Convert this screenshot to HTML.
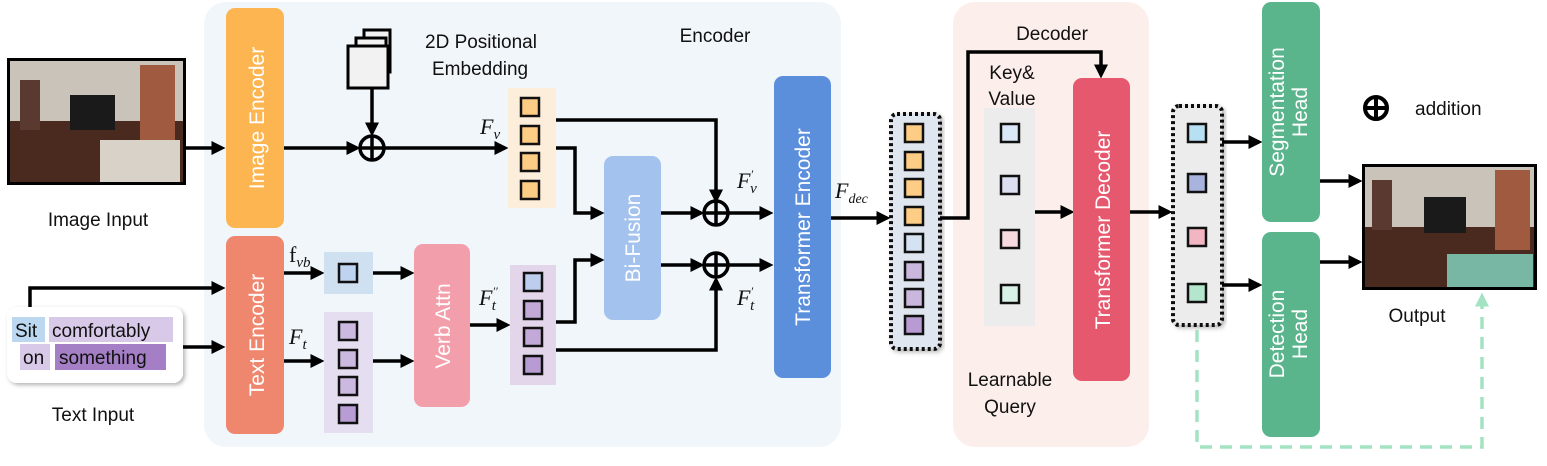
<!DOCTYPE html>
<html><head><meta charset="utf-8"><style>
html,body{margin:0;padding:0;background:#fff}
svg{display:block}
text{font-family:"Liberation Sans","DejaVu Sans",sans-serif}
.w{fill:#fff;font-size:21px}
.l{fill:#111;font-size:19px}
.m{font-family:"Liberation Serif",serif;font-style:italic;font-size:22px;fill:#111}
.ln{stroke:#000;stroke-width:3.5;fill:none}
</style></head><body>
<svg width="1547" height="466" viewBox="0 0 1547 466" xmlns="http://www.w3.org/2000/svg">
<defs>
<marker id="a" markerWidth="4" markerHeight="4" refX="3" refY="2" orient="auto" markerUnits="strokeWidth"><path d="M0,0 L4,2 L0,4 z" fill="#000"/></marker>
<marker id="g" markerWidth="4" markerHeight="4" refX="3" refY="2" orient="auto" markerUnits="strokeWidth"><path d="M0,0 L4,2 L0,4 z" fill="#a3e3c4"/></marker>
<filter id="sh"><feDropShadow dx="2" dy="2" stdDeviation="2" flood-opacity="0.3"/></filter>
</defs>
<!-- backgrounds -->
<rect x="204" y="2" width="637" height="445" rx="22" fill="#f1f6fb"/>
<rect x="953" y="2" width="196" height="445" rx="22" fill="#fcefeb"/>
<text x="715" y="42" class="l" font-size="21" text-anchor="middle">Encoder</text>
<text x="1052" y="40" class="l" font-size="21" text-anchor="middle">Decoder</text>

<!-- image input -->
<rect x="7" y="58" width="179" height="127" fill="#000"/>
<rect x="10" y="61" width="173" height="121" fill="#8a7a6c"/>
<rect x="10" y="61" width="173" height="60" fill="#c9c3b9"/>
<rect x="10" y="121" width="173" height="61" fill="#4a2a1e"/>
<rect x="70" y="95" width="45" height="35" fill="#1a1a1a"/>
<rect x="20" y="80" width="20" height="50" fill="#5a3a30"/>
<rect x="140" y="65" width="35" height="80" fill="#a05a40"/>
<rect x="100" y="140" width="80" height="42" fill="#d8d2c8"/>
<text x="98" y="226" class="l" text-anchor="middle">Image Input</text>

<!-- text input -->
<rect x="7" y="307" width="176" height="76" rx="10" fill="#fff" filter="url(#sh)"/>
<rect x="12" y="317" width="33" height="25" fill="#bcd8f0"/>
<rect x="49" y="317" width="124" height="25" fill="#d9c9e8"/>
<rect x="20" y="344" width="30" height="26" fill="#d9c9e8"/>
<rect x="55" y="344" width="111" height="26" fill="#a57fc6"/>
<text x="15" y="337" class="l">Sit</text>
<text x="52" y="337" class="l">comfortably</text>
<text x="23" y="364" class="l">on</text>
<text x="59" y="364" class="l">something</text>
<text x="93" y="421" class="l" text-anchor="middle">Text Input</text>

<!-- encoders -->
<rect x="226" y="8" width="58" height="220" rx="9" fill="#fdb552"/>
<text class="w" transform="translate(264,118) rotate(-90)" text-anchor="middle">Image Encoder</text>
<rect x="226" y="236" width="58" height="198" rx="9" fill="#ef876f"/>
<text class="w" transform="translate(264,335) rotate(-90)" text-anchor="middle">Text Encoder</text>

<path class="ln" d="M186,148 H222" marker-end="url(#a)"/>
<path class="ln" d="M30,307 V288 H222" marker-end="url(#a)"/>
<path class="ln" d="M183,347 H222" marker-end="url(#a)"/>

<!-- positional embedding -->
<rect x="364" y="30" width="26" height="42" fill="#f2f2f2" stroke="#000" stroke-width="3"/>
<rect x="356" y="38" width="30" height="42" fill="#f2f2f2" stroke="#000" stroke-width="3"/>
<rect x="348" y="46" width="40" height="42" fill="#f2f2f2" stroke="#000" stroke-width="3"/>
<text x="425" y="48" class="l" font-size="16">2D Positional</text>
<text x="432" y="75" class="l" font-size="16">Embedding</text>
<path class="ln" d="M372,88 V133" marker-end="url(#a)"/>
<path class="ln" d="M284,148 H357" marker-end="url(#a)"/>
<circle cx="372" cy="148" r="12" fill="none" stroke="#000" stroke-width="3.5"/>
<path class="ln" d="M360,148 H384 M372,136 V160"/>
<path class="ln" d="M384,148 H505" marker-end="url(#a)"/>
<text x="480" y="134" class="m">F<tspan font-size="15" dy="5">v</tspan></text>

<!-- Fv column -->
<rect x="508" y="88" width="48" height="120" fill="#fdeedc"/>
<g stroke="#111" stroke-width="2.5" fill="#fdcc85">
<rect x="521" y="98" width="18" height="18"/><rect x="521" y="126" width="18" height="18"/><rect x="521" y="153" width="18" height="18"/><rect x="521" y="181" width="18" height="18"/></g>

<!-- Bi-Fusion -->
<rect x="604" y="156" width="57" height="164" rx="9" fill="#a3c3ee"/>
<text class="w" transform="translate(640,238) rotate(-90)" text-anchor="middle">Bi-Fusion</text>
<path class="ln" d="M556,120 H716 V200" marker-end="url(#a)"/>
<path class="ln" d="M556,148 H575 V213 H601" marker-end="url(#a)"/>
<path class="ln" d="M661,213 H701" marker-end="url(#a)"/>
<path class="ln" d="M661,265 H701" marker-end="url(#a)"/>
<circle cx="716" cy="213" r="12" fill="none" stroke="#000" stroke-width="3.5"/>
<path class="ln" d="M704,213 H728 M716,201 V225"/>
<circle cx="716" cy="265" r="12" fill="none" stroke="#000" stroke-width="3.5"/>
<path class="ln" d="M704,265 H728 M716,253 V277"/>
<path class="ln" d="M728,213 H770" marker-end="url(#a)"/>
<path class="ln" d="M728,265 H770" marker-end="url(#a)"/>
<text x="737" y="188" class="m">F<tspan font-size="12" dy="-10">′</tspan><tspan font-size="15" dx="-3" dy="15">v</tspan></text>
<text x="737" y="305" class="m">F<tspan font-size="12" dy="-10">′</tspan><tspan font-size="15" dx="-3" dy="15">t</tspan></text>

<!-- text branch -->
<text x="289" y="262" class="m" style="font-style:normal">f<tspan font-size="15" dy="5" font-style="italic">vb</tspan></text>
<path class="ln" d="M284,273 H321" marker-end="url(#a)"/>
<rect x="324" y="252" width="49" height="42" fill="#cfe0f1"/>
<rect x="339" y="264" width="18" height="18" fill="#bdd3f0" stroke="#111" stroke-width="2.5"/>
<path class="ln" d="M373,273 H411" marker-end="url(#a)"/>
<text x="289" y="344" class="m">F<tspan font-size="15" dy="5">t</tspan></text>
<path class="ln" d="M284,361 H321" marker-end="url(#a)"/>
<rect x="324" y="312" width="49" height="121" fill="#e5def0"/>
<g stroke="#111" stroke-width="2.5">
<rect x="339" y="322" width="18" height="18" fill="#cbb9e0"/><rect x="339" y="350" width="18" height="18" fill="#cbb9e0"/><rect x="339" y="377" width="18" height="18" fill="#cbb9e0"/><rect x="339" y="405" width="18" height="18" fill="#b89cd4"/></g>
<path class="ln" d="M373,361 H411" marker-end="url(#a)"/>
<rect x="414" y="244" width="56" height="163" rx="9" fill="#f29fab"/>
<text class="w" transform="translate(450,326) rotate(-90)" text-anchor="middle">Verb Attn</text>
<path class="ln" d="M470,325 H507" marker-end="url(#a)"/>
<text x="479" y="305" class="m">F<tspan font-size="12" dy="-10">′′</tspan><tspan font-size="15" dx="-6" dy="15">t</tspan></text>
<rect x="510" y="265" width="46" height="120" fill="#e3d6ea"/>
<g stroke="#111" stroke-width="2.5">
<rect x="524" y="273" width="18" height="18" fill="#bccdee"/><rect x="524" y="301" width="18" height="18" fill="#c3a9d8"/><rect x="524" y="328" width="18" height="18" fill="#c3a9d8"/><rect x="524" y="356" width="18" height="18" fill="#b79bd2"/></g>
<path class="ln" d="M556,322 H575 V260 H601" marker-end="url(#a)"/>
<path class="ln" d="M556,350 H716 V280" marker-end="url(#a)"/>

<!-- transformer encoder -->
<rect x="774" y="76" width="57" height="302" rx="9" fill="#5b8fdc"/>
<text class="w" transform="translate(810,227) rotate(-90)" text-anchor="middle" font-size="22">Transformer  Encoder</text>
<text x="835" y="198" class="m">F<tspan font-size="14" dy="5">dec</tspan></text>
<path class="ln" d="M831,218 H887" marker-end="url(#a)"/>

<!-- Fdec column -->
<rect x="891" y="114" width="49" height="235" rx="6" fill="#dfe6ef" stroke="#111" stroke-width="4" stroke-dasharray="3,3" filter="url(#sh)"/>
<g stroke="#111" stroke-width="2.5">
<rect x="905" y="124" width="18" height="18" fill="#fdcc85"/><rect x="905" y="152" width="18" height="18" fill="#fdcc85"/><rect x="905" y="179" width="18" height="18" fill="#fdcc85"/><rect x="905" y="207" width="18" height="18" fill="#fdcc85"/>
<rect x="905" y="234" width="18" height="18" fill="#d4e2f2"/><rect x="905" y="262" width="18" height="18" fill="#c9b7de"/><rect x="905" y="289" width="18" height="18" fill="#c9b7de"/><rect x="905" y="316" width="18" height="18" fill="#b79bd2"/></g>
<path class="ln" d="M940,218 H968 V52 H1101 V75" marker-end="url(#a)"/>
<text x="1012" y="79" class="l" text-anchor="middle">Key&amp;</text>
<text x="1012" y="105" class="l" text-anchor="middle">Value</text>
<rect x="984" y="108" width="51" height="218" fill="#ececec"/>
<g stroke="#111" stroke-width="2.5">
<rect x="1001" y="124" width="18" height="18" fill="#dbe8f7"/><rect x="1001" y="176" width="18" height="18" fill="#dcdff0"/><rect x="1001" y="230" width="18" height="18" fill="#f7d9e0"/><rect x="1001" y="285" width="18" height="18" fill="#d9f2e7"/></g>
<text x="1010" y="386" class="l" text-anchor="middle">Learnable</text>
<text x="1010" y="413" class="l" text-anchor="middle">Query</text>
<path class="ln" d="M1035,212 H1071" marker-end="url(#a)"/>
<rect x="1073" y="78" width="57" height="303" rx="9" fill="#e5586e"/>
<text class="w" transform="translate(1110,230) rotate(-90)" text-anchor="middle" font-size="22">Transformer  Decoder</text>
<path class="ln" d="M1130,212 H1169" marker-end="url(#a)"/>

<!-- output column -->
<rect x="1173" y="106" width="49" height="219" rx="6" fill="#ececec" stroke="#111" stroke-width="4" stroke-dasharray="3,3" filter="url(#sh)"/>
<g stroke="#111" stroke-width="2.5">
<rect x="1188" y="124" width="18" height="18" fill="#b7e0f2"/><rect x="1188" y="174" width="18" height="18" fill="#a9b4de"/><rect x="1188" y="228" width="18" height="18" fill="#f2b6c2"/><rect x="1188" y="284" width="18" height="18" fill="#b3e6cc"/></g>
<path class="ln" d="M1222,142 H1259" marker-end="url(#a)"/>
<path class="ln" d="M1222,285 H1259" marker-end="url(#a)"/>
<rect x="1262" y="2" width="58" height="220" rx="9" fill="#5bb58c"/>
<text class="w" transform="translate(1284,112) rotate(-90)" text-anchor="middle">Segmentation</text>
<text class="w" transform="translate(1307,112) rotate(-90)" text-anchor="middle">Head</text>
<rect x="1262" y="232" width="58" height="205" rx="9" fill="#5bb58c"/>
<text class="w" transform="translate(1284,334) rotate(-90)" text-anchor="middle">Detection</text>
<text class="w" transform="translate(1307,334) rotate(-90)" text-anchor="middle">Head</text>
<path class="ln" d="M1320,181 H1359" marker-end="url(#a)"/>
<path class="ln" d="M1320,262 H1359" marker-end="url(#a)"/>

<!-- output image -->
<rect x="1362" y="164" width="175" height="126" fill="#000"/>
<rect x="1365" y="167" width="169" height="120" fill="#c9c3b9"/>
<rect x="1365" y="227" width="169" height="60" fill="#4a2a1e"/>
<rect x="1424" y="197" width="42" height="36" fill="#1a1a1a"/>
<rect x="1372" y="180" width="20" height="50" fill="#5a3a30"/>
<rect x="1495" y="170" width="35" height="80" fill="#a05a40"/>
<rect x="1447" y="254" width="86" height="33" fill="#7fd0bb" opacity="0.85"/>
<text x="1417" y="322" class="l" text-anchor="middle">Output</text>

<!-- addition legend -->
<circle cx="1376" cy="108" r="11" fill="none" stroke="#000" stroke-width="4"/>
<path d="M1365,108 H1387 M1376,97 V119" stroke="#000" stroke-width="4"/>
<text x="1415" y="115" class="l">addition</text>

<!-- dashed feedback -->
<path d="M1197,330 V447 H1482 V296" fill="none" stroke="#a3e3c4" stroke-width="3.5" stroke-dasharray="12,8" marker-end="url(#g)"/>
</svg>
</body></html>
